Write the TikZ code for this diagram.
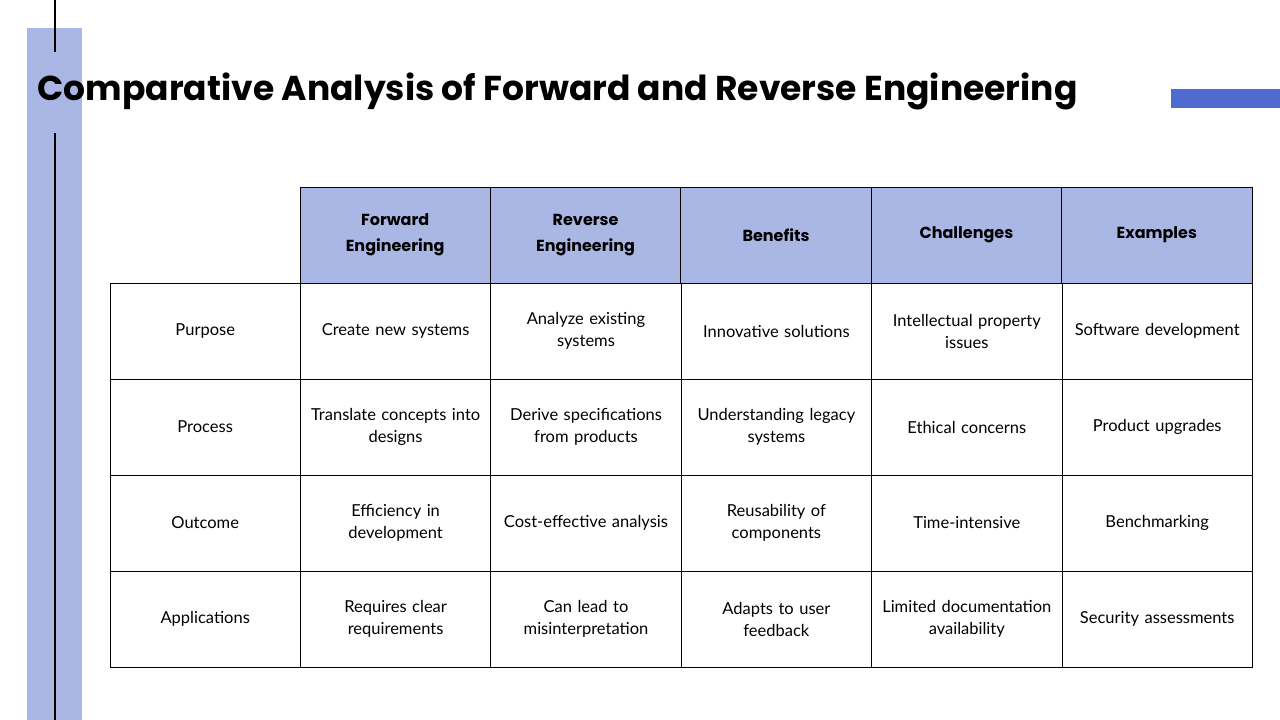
\documentclass[tikz,border=0pt]{standalone}
\usepackage{fontspec}
\setmainfont{Poppins}
\newfontfamily\bodyfont{Lato}
\definecolor{barblue}{RGB}{170,182,228}
\definecolor{accentblue}{RGB}{79,107,207}
\tikzset{
  cell/.style={draw=black, line width=0.8pt, minimum width=190.5pt, minimum height=96pt,
    text width=180pt, align=center, font=\bodyfont\fontsize{16.5}{22}\selectfont, inner sep=0pt},
  headcell/.style={cell, fill=barblue, font=\bfseries\fontsize{16}{26}\selectfont},
}
\begin{document}
\begin{tikzpicture}[x=1pt,y=-1pt]
\useasboundingbox (0,0) rectangle (1280,720);
% side bar and lines
\fill[barblue] (27,28) rectangle (82,720);
\draw[line width=1.5pt] (55,0) -- (55,52);
\draw[line width=1.5pt] (55,133) -- (55,720);
\fill[accentblue] (1171,89) rectangle (1280,108);
% title
\node[anchor=west, font=\bfseries\fontsize{34.5}{40}\selectfont] (title) at (34,91)
  {Comparative Analysis of Forward and Reverse Engineering};
% header row
\foreach \t [count=\i] in {{Forward\\Engineering},{Reverse\\Engineering},Benefits,Challenges,Examples}
  \node[headcell] (h-\i) at ({300+190.4*(\i-0.5)},235) {\t};
% body rows
\foreach \a/\b/\c/\d/\e/\f [count=\r] in {
  Purpose/Create new systems/Analyze existing\\systems/Innovative solutions/Intellectual property\\issues/Software development,
  Process/Translate concepts into\\designs/Derive specifications\\from products/Understanding legacy\\systems/Ethical concerns/Product upgrades,
  Outcome/Efficiency in\\development/Cost-effective analysis/Reusability of\\components/Time-intensive/Benchmarking,
  Applications/Requires clear\\requirements/Can lead to\\misinterpretation/Adapts to user\\feedback/Limited documentation\\availability/Security assessments}
{
  \foreach \t [count=\k] in {\a,\b,\c,\d,\e,\f}
    \node[cell] (c-\r-\k) at ({110+190.4*(\k-0.5)},{283+96*(\r-0.5)}) {\t};
}
\end{tikzpicture}
\end{document}
